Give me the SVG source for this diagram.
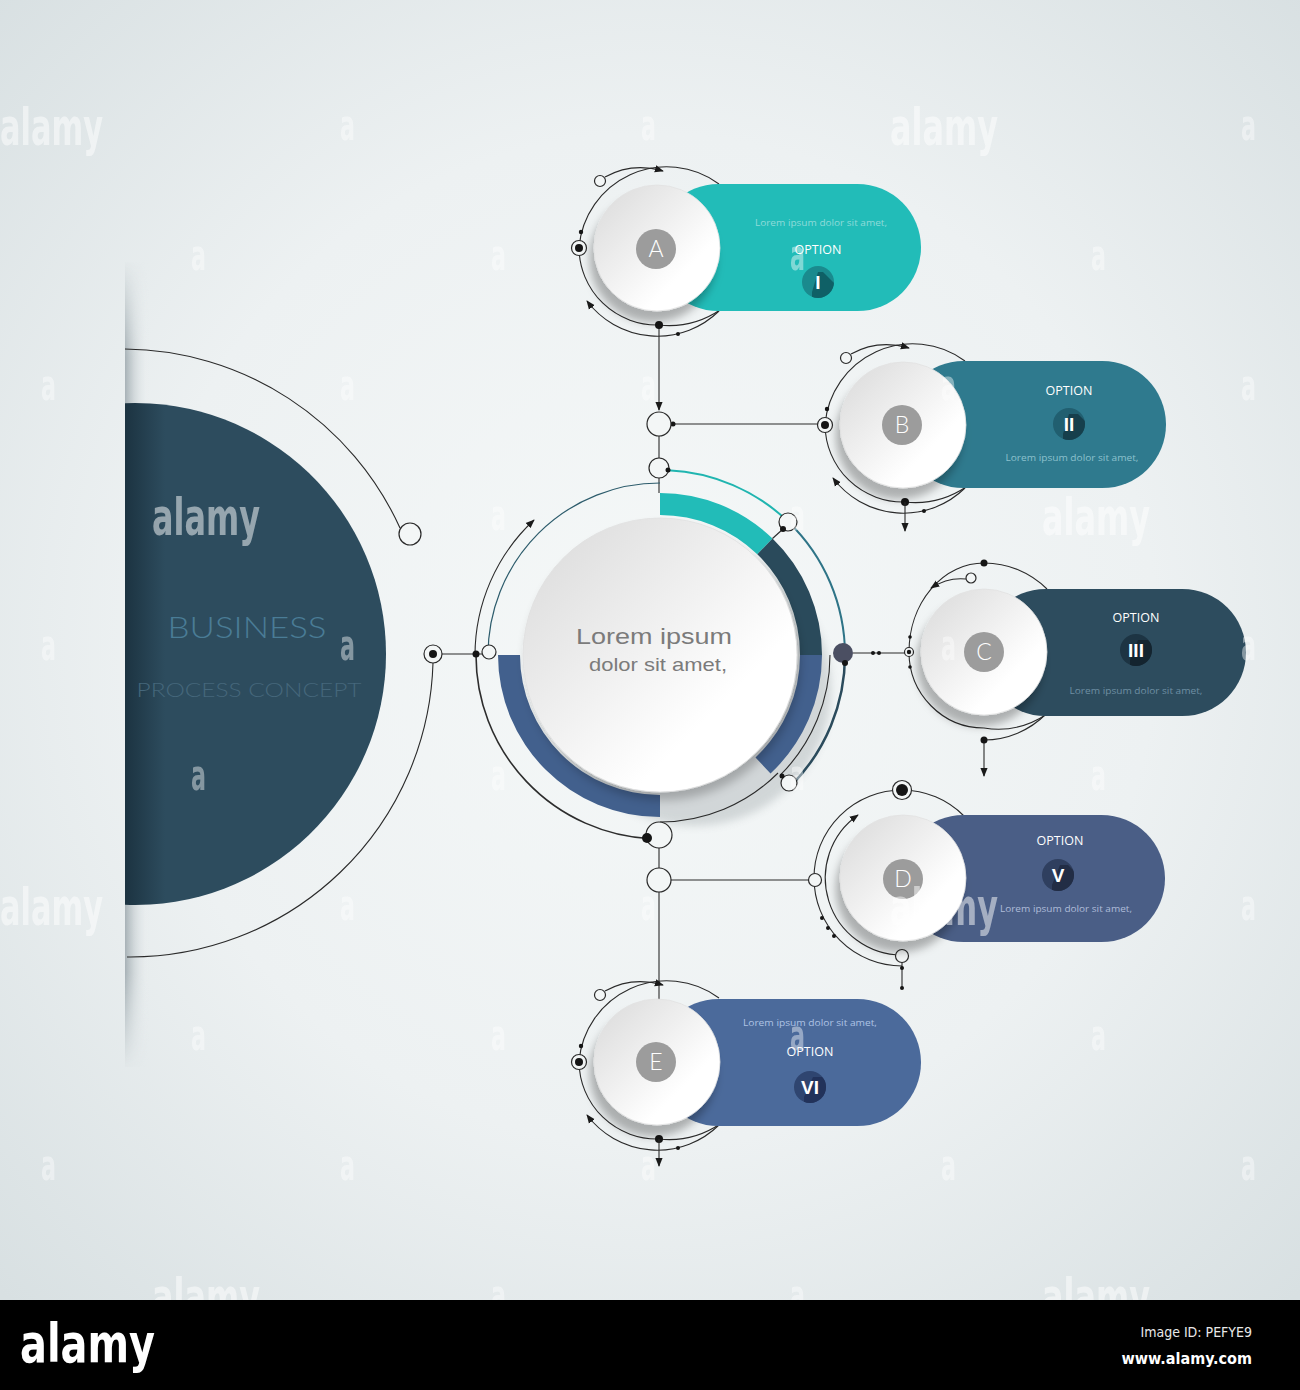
<svg xmlns="http://www.w3.org/2000/svg" xmlns:xlink="http://www.w3.org/1999/xlink" width="1300" height="1390" viewBox="0 0 1300 1390">
<defs>
  <radialGradient id="bg" gradientUnits="userSpaceOnUse" cx="650" cy="640" r="920">
    <stop offset="0" stop-color="#f5f8f8"/>
    <stop offset="0.55" stop-color="#edf1f2"/>
    <stop offset="1" stop-color="#d8e0e2"/>
  </radialGradient>
  <linearGradient id="discG" x1="0" y1="0" x2="1" y2="1">
    <stop offset="0" stop-color="#d9d9d9"/>
    <stop offset="0.45" stop-color="#f1f1f1"/>
    <stop offset="0.7" stop-color="#ffffff"/>
    <stop offset="1" stop-color="#ffffff"/>
  </linearGradient>
  <linearGradient id="edgeG" x1="0" y1="0" x2="1" y2="0">
    <stop offset="0" stop-color="#a3aeb3" stop-opacity="0.95"/>
    <stop offset="1" stop-color="#eef2f3" stop-opacity="0"/>
  </linearGradient>
  <linearGradient id="edgeV" x1="0" y1="0" x2="0" y2="1">
    <stop offset="0" stop-color="#000"/>
    <stop offset="0.12" stop-color="#fff"/>
    <stop offset="0.88" stop-color="#fff"/>
    <stop offset="1" stop-color="#000"/>
  </linearGradient>
  <mask id="edgeM" maskUnits="userSpaceOnUse" x="120" y="260" width="40" height="810">
    <rect x="120" y="260" width="40" height="810" fill="url(#edgeV)"/>
  </mask>
  <linearGradient id="darkG" gradientUnits="userSpaceOnUse" x1="125" y1="0" x2="165" y2="0">
    <stop offset="0" stop-color="#1c3341"/>
    <stop offset="1" stop-color="#2d4c5e"/>
  </linearGradient>
  <filter id="dsh" x="-40%" y="-40%" width="180%" height="190%">
    <feGaussianBlur in="SourceAlpha" stdDeviation="4"/>
    <feOffset dx="-4" dy="11" result="o"/>
    <feFlood flood-color="#000" flood-opacity="0.28"/>
    <feComposite in2="o" operator="in"/>
    <feMerge><feMergeNode/><feMergeNode in="SourceGraphic"/></feMerge>
  </filter>
  <filter id="hsh" x="-30%" y="-30%" width="160%" height="160%">
    <feGaussianBlur in="SourceAlpha" stdDeviation="5"/>
    <feOffset dx="3" dy="8" result="o"/>
    <feFlood flood-color="#000" flood-opacity="0.22"/>
    <feComposite in2="o" operator="in"/>
    <feMerge><feMergeNode/><feMergeNode in="SourceGraphic"/></feMerge>
  </filter>
  <filter id="blur4" x="-20%" y="-20%" width="140%" height="140%">
    <feGaussianBlur stdDeviation="4"/>
  </filter>
  <clipPath id="icl"><circle cx="0" cy="0" r="16"/></clipPath>
  <marker id="arr" viewBox="0 0 10 10" refX="9" refY="5" markerWidth="9" markerHeight="9" markerUnits="userSpaceOnUse" orient="auto">
    <path d="M0,1 L10,5 L0,9 Z" fill="#1a1a1a"/>
  </marker>
  <style>
    .ln{fill:none;stroke:#2a2a2a;stroke-width:1.1}
    .oc{fill:#f3f6f6;stroke:#2a2a2a;stroke-width:1.2}
    .dot{fill:#151515}
    .disc{fill:url(#discG);stroke:#e2e2e2;stroke-width:0.8;filter:url(#dsh)}
    .lc{fill:#9c9c9c}
    .let{font-family:Lato,"Open Sans","Liberation Sans",sans-serif;font-weight:300;font-size:23px;fill:#ffffff;text-anchor:middle}
    .opt{font-family:"Open Sans","Liberation Sans",sans-serif;font-size:12.5px;fill:#ffffff;text-anchor:middle}
    .lor{font-family:"Open Sans","Liberation Sans",sans-serif;font-size:9px;text-anchor:middle}
    .num{font-family:"Liberation Sans",sans-serif;font-weight:bold;font-size:19px;fill:#ffffff;text-anchor:middle}
    .wm{font-family:"DejaVu Sans Condensed","Liberation Sans Narrow","Liberation Sans",sans-serif;font-weight:bold;fill:#ffffff;opacity:0.5}
    .wa{font-family:"DejaVu Sans Condensed","Liberation Sans Narrow","Liberation Sans",sans-serif;font-weight:bold;font-size:42px;fill:#ffffff;opacity:0.42}
  </style>
  <g id="decoABE">
    <path class="ln" d="M-78,0 A88,88 0 0 1 62,-64"/>
    <path class="ln" d="M-78,0 A78,78 0 0 0 2,77 A92,92 0 0 0 63,62"/>
    <path class="ln" d="M62,63 A88,88 0 0 1 -70,53" marker-end="url(#arr)"/>
    <path class="ln" d="M-52,-71 Q-25,-86 6,-77" marker-end="url(#arr)"/>
    <circle class="oc" cx="-57" cy="-67" r="5.5"/>
    <circle class="dot" cx="-76" cy="-16" r="2.2"/>
    <circle class="dot" cx="21" cy="86" r="2"/>
    <circle class="dot" cx="2" cy="77" r="4"/>
    <circle class="oc" cx="-78" cy="0" r="7.5"/>
    <circle class="dot" cx="-78" cy="0" r="4"/>
  </g>
</defs>

<rect x="0" y="0" width="1300" height="1390" fill="url(#bg)"/>

<!-- left panel -->
<g id="business">
  <rect x="125" y="262" width="24" height="805" fill="url(#edgeG)" mask="url(#edgeM)"/>
  <path d="M125,403.2 A251,251 0 1 1 125,904.8 Z" fill="url(#darkG)"/>
  <path class="ln" d="M125,349 A305,305 0 0 1 400,528"/>
  <circle class="oc" cx="410" cy="534" r="11"/>
  <path class="ln" d="M433,663 A303,303 0 0 1 127,957"/>
  <text x="247" y="638" font-family="Lato,'Open Sans','Liberation Sans',sans-serif" font-weight="300" font-size="29" fill="#4a7c96" text-anchor="middle" textLength="159" lengthAdjust="spacingAndGlyphs">BUSINESS</text>
  <text x="249" y="697" font-family="Lato,'Open Sans','Liberation Sans',sans-serif" font-weight="300" font-size="19" fill="#45677b" text-anchor="middle" textLength="225" lengthAdjust="spacingAndGlyphs">PROCESS CONCEPT</text>
</g>

<!-- connectors -->
<g id="connectors">
  <path class="ln" d="M659,326 V410" marker-end="url(#arr)"/>
  <path class="ln" d="M659,436 V458"/>
  <path class="ln" d="M659,478 V493"/>
  <path class="ln" d="M671,424 H818"/>
  <circle class="dot" cx="673" cy="424" r="2.5"/>
  <path class="ln" d="M853,653 H905"/>
  <circle class="dot" cx="873" cy="653" r="2"/>
  <circle class="dot" cx="879" cy="653" r="2"/>
  <path class="ln" d="M442,654 H482"/>
  <path class="ln" d="M659,848 V868"/>
  <path class="ln" d="M671,880 H808"/>
  <path class="ln" d="M659,892 V1000"/>
  <circle class="oc" cx="659" cy="424" r="12"/>
  <circle class="oc" cx="659" cy="880" r="12"/>
  <circle class="oc" cx="433" cy="654" r="9"/>
  <circle class="dot" cx="433" cy="654" r="4"/>
</g>

<!-- central hub -->
<g id="hub">
  <path d="M756.9,558.1 L790.9,592.1 A137,137 0 0 1 597.1,785.9 L563.1,751.9 Z" fill="#5f6a70" opacity="0.22" filter="url(#blur4)"/>
  <path d="M660,493 A162,162 0 0 1 772.5,538.5 L757.3,554.3 A140,140 0 0 0 660,515 Z" fill="#22bcb8"/>
  <path d="M772.5,538.5 A162,162 0 0 1 822,655 L800,655 A140,140 0 0 0 757.3,554.3 Z" fill="#2a4a5b"/>
  <path d="M822,655 A162,162 0 0 1 770.5,773.5 L755.5,757.4 A140,140 0 0 0 800,655 Z" fill="#42608d"/>
  <path d="M660,817 A162,162 0 0 1 498,655 L520,655 A140,140 0 0 0 660,795 Z" fill="#42608d"/>
  <circle cx="660" cy="655" r="137" fill="url(#discG)" stroke="#e0e0e0" stroke-width="0.8" filter="url(#hsh)"/>
  <text x="654" y="644" font-family="'Liberation Sans',Arial,sans-serif" font-size="22" fill="#7b7b7b" text-anchor="middle" textLength="156" lengthAdjust="spacingAndGlyphs">Lorem ipsum</text>
  <text x="658" y="671" font-family="'Liberation Sans',Arial,sans-serif" font-size="19" fill="#7b7b7b" text-anchor="middle" textLength="138" lengthAdjust="spacingAndGlyphs">dolor sit amet,</text>
  <!-- thin arcs -->
  <path d="M668,470.2 A185,185 0 0 1 788.5,522" fill="none" stroke="#20b5b0" stroke-width="2"/>
  <path d="M788.5,522 A185,185 0 0 1 845,655" fill="none" stroke="#2e7487" stroke-width="2"/>
  <path d="M845,655 A185,185 0 0 1 790.8,785.8" fill="none" stroke="#2b4b5c" stroke-width="2.5"/>
  <path class="ln" d="M830,655 A170,170 0 0 1 780.2,775.2"/>
  <path class="ln" d="M660,822 A167,167 0 0 0 778,773"/>
  <path d="M476,655 A184,184 0 0 0 650.4,838.7" fill="none" stroke="#2d2d2d" stroke-width="1.6"/>
  <path class="ln" d="M475,655 A185,185 0 0 1 534,520" marker-end="url(#arr)"/>
  <path d="M488,655 A172,172 0 0 1 660,483" fill="none" stroke="#2d5c6c" stroke-width="1.2"/>
  <path class="ln" d="M783,529 L772.5,538.5"/>
  <!-- junction circles -->
  <circle class="oc" cx="659" cy="468" r="10"/>
  <circle class="dot" cx="668" cy="470" r="2.5"/>
  <circle class="oc" cx="788" cy="522" r="9"/>
  <circle class="dot" cx="783" cy="529" r="3"/>
  <circle cx="843" cy="653" r="10" fill="#4b4f62"/>
  <circle class="dot" cx="845" cy="663" r="3"/>
  <circle class="oc" cx="789" cy="783" r="8"/>
  <circle class="dot" cx="782" cy="776" r="2.5"/>
  <circle class="oc" cx="659" cy="835" r="13"/>
  <circle class="dot" cx="647" cy="838" r="5"/>
  <circle class="oc" cx="489" cy="652" r="7"/>
  <circle class="dot" cx="476" cy="654" r="3.5"/>
</g>

<!-- node A -->
<g id="node-a">
  <use xlink:href="#decoABE" href="#decoABE" transform="translate(657,248)"/>
  <rect x="655" y="184" width="266" height="127" rx="63.5" fill="#22bcb8"/>
  <circle class="disc" cx="657" cy="248" r="63"/>
  <circle class="lc" cx="656" cy="249" r="20"/>
  <text class="let" x="656" y="257">A</text>
  <text class="lor" x="821" y="226" fill="#8fdbd8" textLength="132" lengthAdjust="spacingAndGlyphs">Lorem ipsum dolor sit amet,</text>
  <text class="opt" x="818" y="254">OPTION</text>
  <g transform="translate(818,282)">
    <circle r="16" fill="#1a8a8e"/>
    <polygon points="0,-10 5,-10 24,9 24,26 -6,26 -6,10" fill="#0f6066" clip-path="url(#icl)"/>
    <text class="num" y="7">I</text>
  </g>
</g>

<!-- node B -->
<g id="node-b">
  <use xlink:href="#decoABE" href="#decoABE" transform="translate(903,425)"/>
  <path class="ln" d="M905,502 V531" marker-end="url(#arr)"/>
  <rect x="900" y="361" width="266" height="127" rx="63.5" fill="#2f7a8e"/>
  <circle class="disc" cx="903" cy="425" r="63"/>
  <circle class="lc" cx="902" cy="425" r="20"/>
  <text class="let" x="902" y="433">B</text>
  <text class="opt" x="1069" y="395">OPTION</text>
  <g transform="translate(1069,424)">
    <circle r="16" fill="#215f70"/>
    <polygon points="0,-10 9,-10 24,5 24,26 -6,26 -6,10" fill="#163f4c" clip-path="url(#icl)"/>
    <text class="num" y="7">II</text>
  </g>
  <text class="lor" x="1072" y="461" fill="#8cc1cd" textLength="133" lengthAdjust="spacingAndGlyphs">Lorem ipsum dolor sit amet,</text>
</g>

<!-- node C -->
<g id="node-c">
  <g transform="translate(984,652)">
    <path class="ln" d="M-75,0 A75,89 0 0 1 0,-89 A89,89 0 0 1 63,-63"/>
    <path class="ln" d="M-75,0 A75,76 0 0 0 0,76 A88,88 0 0 0 63,62"/>
    <path class="ln" d="M0,88 A88,88 0 0 0 62,62"/>
    <path class="ln" d="M0,88 V124" marker-end="url(#arr)"/>
    <circle class="dot" cx="0" cy="88" r="3.5"/>
    <circle class="dot" cx="0" cy="-89" r="3.5"/>
    <path class="ln" d="M-18,-73 Q-36,-75 -53,-64" marker-end="url(#arr)"/>
    <circle class="oc" cx="-13" cy="-74" r="5"/>
    <circle class="dot" cx="-74" cy="-15" r="1.8"/>
    <circle class="dot" cx="-74" cy="15" r="1.8"/>
    <circle class="oc" cx="-75" cy="0" r="4.5"/>
    <circle class="dot" cx="-75" cy="0" r="2.2"/>
  </g>
  <rect x="982" y="589" width="264" height="127" rx="63.5" fill="#2d4c5e"/>
  <circle class="disc" cx="984" cy="652" r="63"/>
  <circle class="lc" cx="984" cy="652" r="20"/>
  <text class="let" x="984" y="660">C</text>
  <text class="opt" x="1136" y="622">OPTION</text>
  <g transform="translate(1136,650)">
    <circle r="16" fill="#1d3443"/>
    <polygon points="2,-10 12,-10 24,2 24,26 -6,26 -6,10" fill="#14242f" clip-path="url(#icl)"/>
    <text class="num" y="7">III</text>
  </g>
  <text class="lor" x="1136" y="694" fill="#6d8fa3" textLength="133" lengthAdjust="spacingAndGlyphs">Lorem ipsum dolor sit amet,</text>
</g>

<!-- node D -->
<g id="node-d">
  <g transform="translate(902,878)">
    <path class="ln" d="M0,-88 A88,88 0 0 0 -88,0 A88,88 0 0 0 0,88"/>
    <path class="ln" d="M0,-88 A88,88 0 0 1 62,-62"/>
    <path class="ln" d="M0,77 A77,77 0 0 1 -44,-63" marker-end="url(#arr)"/>
    <path class="ln" d="M0,84 V110"/>
    <circle class="dot" cx="0" cy="90" r="2"/>
    <circle class="dot" cx="0" cy="110" r="2"/>
    <circle class="oc" cx="0" cy="78" r="6.5"/>
    <circle class="oc" cx="-87" cy="2" r="6.5"/>
    <circle class="dot" cx="-80" cy="40" r="2"/>
    <circle class="dot" cx="-74" cy="50" r="2"/>
    <circle class="dot" cx="-68" cy="58" r="2"/>
    <circle class="oc" cx="0" cy="-88" r="9.5"/>
    <circle class="dot" cx="0" cy="-88" r="6"/>
  </g>
  <rect x="900" y="815" width="265" height="127" rx="63.5" fill="#4a5e86"/>
  <circle class="disc" cx="903" cy="878" r="63"/>
  <circle class="lc" cx="903" cy="879" r="20"/>
  <text class="let" x="903" y="887">D</text>
  <text class="opt" x="1060" y="845">OPTION</text>
  <g transform="translate(1058,875)">
    <circle r="16" fill="#2f3f5f"/>
    <polygon points="2,-10 10,-10 24,4 24,26 -6,26 -6,10" fill="#222d45" clip-path="url(#icl)"/>
    <text class="num" y="7">V</text>
  </g>
  <text class="lor" x="1066" y="912" fill="#aebcd8" textLength="132" lengthAdjust="spacingAndGlyphs">Lorem ipsum dolor sit amet,</text>
</g>

<!-- node E -->
<g id="node-e">
  <use xlink:href="#decoABE" href="#decoABE" transform="translate(657,1062)"/>
  <path class="ln" d="M659,1139 V1166" marker-end="url(#arr)"/>
  <rect x="655" y="999" width="266" height="127" rx="63.5" fill="#4b6a9b"/>
  <circle class="disc" cx="657" cy="1062" r="63"/>
  <circle class="lc" cx="656" cy="1062" r="20"/>
  <text class="let" x="656" y="1070">E</text>
  <text class="lor" x="810" y="1026" fill="#aec3e4" textLength="134" lengthAdjust="spacingAndGlyphs">Lorem ipsum dolor sit amet,</text>
  <text class="opt" x="810" y="1056">OPTION</text>
  <g transform="translate(810,1087)">
    <circle r="16" fill="#2f4570"/>
    <polygon points="3,-10 12,-10 24,2 24,26 -6,26 -6,10" fill="#22325a" clip-path="url(#icl)"/>
    <text class="num" y="7">VI</text>
  </g>
</g>

<!-- watermark -->
<g id="watermark">
  <text class="wm" x="0" y="145" font-size="52" textLength="103" lengthAdjust="spacingAndGlyphs">alamy</text>
  <text class="wm" x="890" y="145" font-size="52" textLength="108" lengthAdjust="spacingAndGlyphs">alamy</text>
  <text class="wm" x="152" y="535" font-size="52" textLength="108" lengthAdjust="spacingAndGlyphs">alamy</text>
  <text class="wm" x="1042" y="535" font-size="52" textLength="108" lengthAdjust="spacingAndGlyphs">alamy</text>
  <text class="wm" x="0" y="925" font-size="52" textLength="103" lengthAdjust="spacingAndGlyphs">alamy</text>
  <text class="wm" x="890" y="925" font-size="52" textLength="108" lengthAdjust="spacingAndGlyphs">alamy</text>
  <text class="wm" x="152" y="1315" font-size="52" textLength="108" lengthAdjust="spacingAndGlyphs">alamy</text>
  <text class="wm" x="1042" y="1315" font-size="52" textLength="108" lengthAdjust="spacingAndGlyphs">alamy</text>
  <g>
    <text class="wa" x="340" y="140" textLength="15" lengthAdjust="spacingAndGlyphs">a</text>
    <text class="wa" x="641" y="140" textLength="15" lengthAdjust="spacingAndGlyphs">a</text>
    <text class="wa" x="1241" y="140" textLength="15" lengthAdjust="spacingAndGlyphs">a</text>
    <text class="wa" x="191" y="270" textLength="15" lengthAdjust="spacingAndGlyphs">a</text>
    <text class="wa" x="491" y="270" textLength="15" lengthAdjust="spacingAndGlyphs">a</text>
    <text class="wa" x="790" y="270" textLength="15" lengthAdjust="spacingAndGlyphs">a</text>
    <text class="wa" x="1091" y="270" textLength="15" lengthAdjust="spacingAndGlyphs">a</text>
    <text class="wa" x="41" y="400" textLength="15" lengthAdjust="spacingAndGlyphs">a</text>
    <text class="wa" x="340" y="400" textLength="15" lengthAdjust="spacingAndGlyphs">a</text>
    <text class="wa" x="641" y="400" textLength="15" lengthAdjust="spacingAndGlyphs">a</text>
    <text class="wa" x="941" y="400" textLength="15" lengthAdjust="spacingAndGlyphs">a</text>
    <text class="wa" x="1241" y="400" textLength="15" lengthAdjust="spacingAndGlyphs">a</text>
    <text class="wa" x="491" y="530" textLength="15" lengthAdjust="spacingAndGlyphs">a</text>
    <text class="wa" x="790" y="530" textLength="15" lengthAdjust="spacingAndGlyphs">a</text>
    <text class="wa" x="41" y="660" textLength="15" lengthAdjust="spacingAndGlyphs">a</text>
    <text class="wa" x="340" y="660" textLength="15" lengthAdjust="spacingAndGlyphs">a</text>
    <text class="wa" x="941" y="660" textLength="15" lengthAdjust="spacingAndGlyphs">a</text>
    <text class="wa" x="1241" y="660" textLength="15" lengthAdjust="spacingAndGlyphs">a</text>
    <text class="wa" x="191" y="790" textLength="15" lengthAdjust="spacingAndGlyphs">a</text>
    <text class="wa" x="491" y="790" textLength="15" lengthAdjust="spacingAndGlyphs">a</text>
    <text class="wa" x="790" y="790" textLength="15" lengthAdjust="spacingAndGlyphs">a</text>
    <text class="wa" x="1091" y="790" textLength="15" lengthAdjust="spacingAndGlyphs">a</text>
    <text class="wa" x="340" y="920" textLength="15" lengthAdjust="spacingAndGlyphs">a</text>
    <text class="wa" x="641" y="920" textLength="15" lengthAdjust="spacingAndGlyphs">a</text>
    <text class="wa" x="1241" y="920" textLength="15" lengthAdjust="spacingAndGlyphs">a</text>
    <text class="wa" x="191" y="1050" textLength="15" lengthAdjust="spacingAndGlyphs">a</text>
    <text class="wa" x="491" y="1050" textLength="15" lengthAdjust="spacingAndGlyphs">a</text>
    <text class="wa" x="790" y="1050" textLength="15" lengthAdjust="spacingAndGlyphs">a</text>
    <text class="wa" x="1091" y="1050" textLength="15" lengthAdjust="spacingAndGlyphs">a</text>
    <text class="wa" x="41" y="1180" textLength="15" lengthAdjust="spacingAndGlyphs">a</text>
    <text class="wa" x="340" y="1180" textLength="15" lengthAdjust="spacingAndGlyphs">a</text>
    <text class="wa" x="641" y="1180" textLength="15" lengthAdjust="spacingAndGlyphs">a</text>
    <text class="wa" x="941" y="1180" textLength="15" lengthAdjust="spacingAndGlyphs">a</text>
    <text class="wa" x="1241" y="1180" textLength="15" lengthAdjust="spacingAndGlyphs">a</text>
    <text class="wa" x="491" y="1310" textLength="15" lengthAdjust="spacingAndGlyphs">a</text>
    <text class="wa" x="790" y="1310" textLength="15" lengthAdjust="spacingAndGlyphs">a</text>
  </g>
</g>

<!-- footer -->
<g id="footer">
  <rect x="0" y="1300" width="1300" height="90" fill="#000000"/>
  <text x="20" y="1362" font-family="'DejaVu Sans Condensed','Liberation Sans Narrow','Liberation Sans',sans-serif" font-weight="bold" font-size="54" fill="#ffffff" textLength="135" lengthAdjust="spacingAndGlyphs">alamy</text>
  <text x="1252" y="1337" font-family="'DejaVu Sans Condensed','Liberation Sans',sans-serif" font-size="14" fill="#e8e8e8" text-anchor="end">Image ID: PEFYE9</text>
  <text x="1252" y="1364" font-family="'DejaVu Sans Condensed','Liberation Sans',sans-serif" font-weight="bold" font-size="16" fill="#ffffff" text-anchor="end">www.alamy.com</text>
</g>
</svg>
